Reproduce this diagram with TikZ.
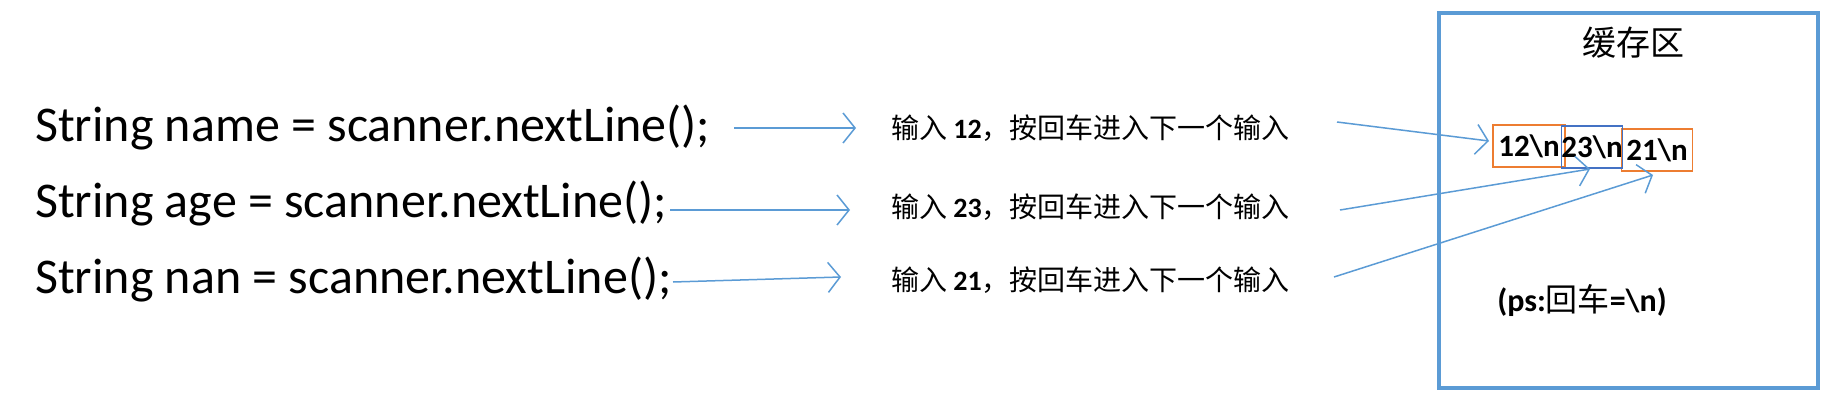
\documentclass[tikz,border=0pt]{standalone}
\usepackage{fontspec}
\setmainfont{Carlito}
\newfontfamily\cjk{Noto Sans CJK SC}
\usetikzlibrary{arrows.meta}
\definecolor{lblue}{HTML}{5B9BD5}
\definecolor{dblue}{HTML}{4472C4}
\definecolor{orng}{HTML}{ED7D31}
\tikzset{
 arr/.style={draw=lblue,line width=1.5pt,-{Straight Barb[length=12pt,width=30pt,line width=1.5pt]}},
 code/.style={anchor=west,inner sep=0,font=\fontsize{50}{50}\selectfont},
 mid/.style={anchor=west,inner sep=0,font=\fontsize{28}{28}\selectfont},
 cell/.style={draw=#1,line width=1.3pt,minimum height=42pt,inner sep=0,font=\bfseries\fontsize{31}{31}\selectfont}
}
\begin{document}
\begin{tikzpicture}[x=1pt,y=-1pt]
\useasboundingbox (0,0) rectangle (1826,401);
\draw[lblue,line width=4pt] (1439,13) rectangle (1818,388);
\node[font=\cjk\fontsize{34}{34}\selectfont] (t) at (1633,43) {缓存区};
\node[code] (c1) at (35,128) {String name = scanner.nextLine();};
\node[code] (c2) at (35,204) {String age = scanner.nextLine();};
\node[code] (c3) at (35,280) {String nan = scanner.nextLine();};
\node[mid] (m1) at (891,128) {{\cjk 输入 }\textbf{12}{\cjk ，按回车进入下一个输入}};
\node[mid] (m2) at (891,207) {{\cjk 输入 }\textbf{23}{\cjk ，按回车进入下一个输入}};
\node[mid] (m3) at (891,280) {{\cjk 输入 }\textbf{21}{\cjk ，按回车进入下一个输入}};
\node[cell=orng,minimum width=72pt] (b1) at (1529,146) {12\textbackslash n};
\node[cell=orng,minimum width=71pt] (b3) at (1657,150) {21\textbackslash n};
\node[cell=dblue,minimum width=58pt] (b2) at (1592,147) {23\textbackslash n};
\node[font=\bfseries\fontsize{32}{32}\selectfont] (ps) at (1582,300) {(ps:{\cjk\mdseries 回车}=\textbackslash n)};
\coordinate (s1) at (734,128); \coordinate (e1) at (856,128);
\coordinate (s2) at (670,210); \coordinate (e2) at (850,210);
\coordinate (s3) at (673,282); \coordinate (e3) at (841,277);
\draw[arr] (s1) -- (e1);
\draw[arr] (s2) -- (e2);
\draw[arr] (s3) -- (e3);
\coordinate (f1) at (1337,122); \coordinate (g1) at (1489,141);
\coordinate (f2) at (1340,210); \coordinate (g2) at (1590,169);
\coordinate (f3) at (1334,277); \coordinate (g3) at (1653,175);
\draw[arr] (f1) -- (g1);
\draw[arr] (f2) -- (g2);
\draw[arr] (f3) -- (g3);
\end{tikzpicture}
\end{document}
